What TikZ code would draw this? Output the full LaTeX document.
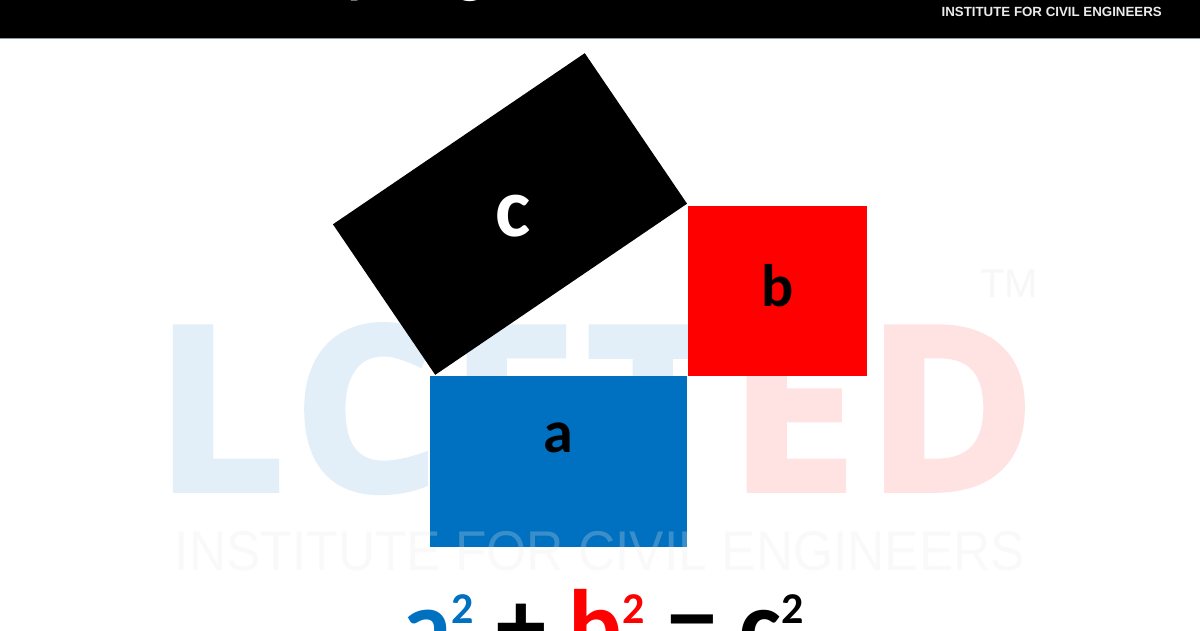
\documentclass[tikz,border=0pt]{standalone}
\usepackage{fontspec}
\setmainfont{Carlito}
\newfontfamily\wmfont[BoldFeatures={FakeBold=2.5}]{Open Sans}
\newfontfamily\arialfont{Liberation Sans}
\usetikzlibrary{positioning}

\definecolor{sqblue}{HTML}{0070C0}
\definecolor{sqred}{HTML}{FF0000}
\definecolor{barline}{HTML}{8C9BAA}
\newcommand{\sqexp}[1]{\raisebox{36pt}{\fontsize{44}{44}\selectfont #1}}

\begin{document}
\begin{tikzpicture}[x=1pt, y=-1pt,
  sqbox/.style={inner sep=0pt, outer sep=0pt},
  lbl/.style={anchor=base, inner sep=0pt, font=\fontsize{60}{60}\selectfont\bfseries}]
\useasboundingbox (0,0) rectangle (1200,630);
\fill[white] (0,0) rectangle (1200,630);
\fill[black] (0,0) rectangle (1200,38);
\draw[barline, line width=1.2pt] (0,38.6) -- (1200,38.6);
\node[anchor=base west, inner sep=0pt, white, font=\fontsize{60}{60}\selectfont\bfseries] (title) at (313,-9) {Pythagorean Theorem};
\node[anchor=east, inner sep=0pt, white!92!black, font=\arialfont\fontsize{13.3}{14}\selectfont\bfseries] (brand) at (1162,12) {INSTITUTE FOR CIVIL ENGINEERS};

\node[anchor=base west, inner sep=0pt, font=\wmfont\fontsize{228}{228}\selectfont\bfseries] (logo) at (155,490) {\textcolor{sqblue!11}{L\kern10pt C\kern10pt E\kern10pt T}\kern10pt\textcolor{sqred!11}{E\kern10pt D}};
\node[anchor=base west, inner sep=0pt, text=black!3, font=\arialfont\fontsize{40}{40}\selectfont] (tm) at (980,297) {TM};

\node[sqbox, fill=sqblue, minimum width=257pt, minimum height=171pt] (sqa) at (558.5,461.5) {};
\node[sqbox, fill=sqred, minimum width=179pt, minimum height=170pt] (sqb) at (777.5,291) {};
\node[sqbox, fill=black, rotate=34.2, minimum width=304.5pt, minimum height=182pt] (sqc) at (510,214) {};

\node[anchor=base, inner sep=0pt, text=black!8, opacity=0.25, font=\arialfont\fontsize{56}{56}\selectfont] (logotext) at (600,570) {\scalebox{0.92}[1]{INSTITUTE FOR CIVIL ENGINEERS}};

\node[lbl] (la) at (558,452) {a};
\node[lbl] (lb) at (778,306.7) {b};
\node[lbl, white, font=\fontsize{84}{84}\selectfont\bfseries] (lc) at (513,236) {c};

\node[anchor=base west, inner sep=0pt, font=\fontsize{100}{100}\selectfont\bfseries] (eq) at (402,659) {\textcolor{sqblue}{a\sqexp{2}} + \textcolor{sqred}{b\sqexp{2}} = c\sqexp{2}};
\end{tikzpicture}
\end{document}
